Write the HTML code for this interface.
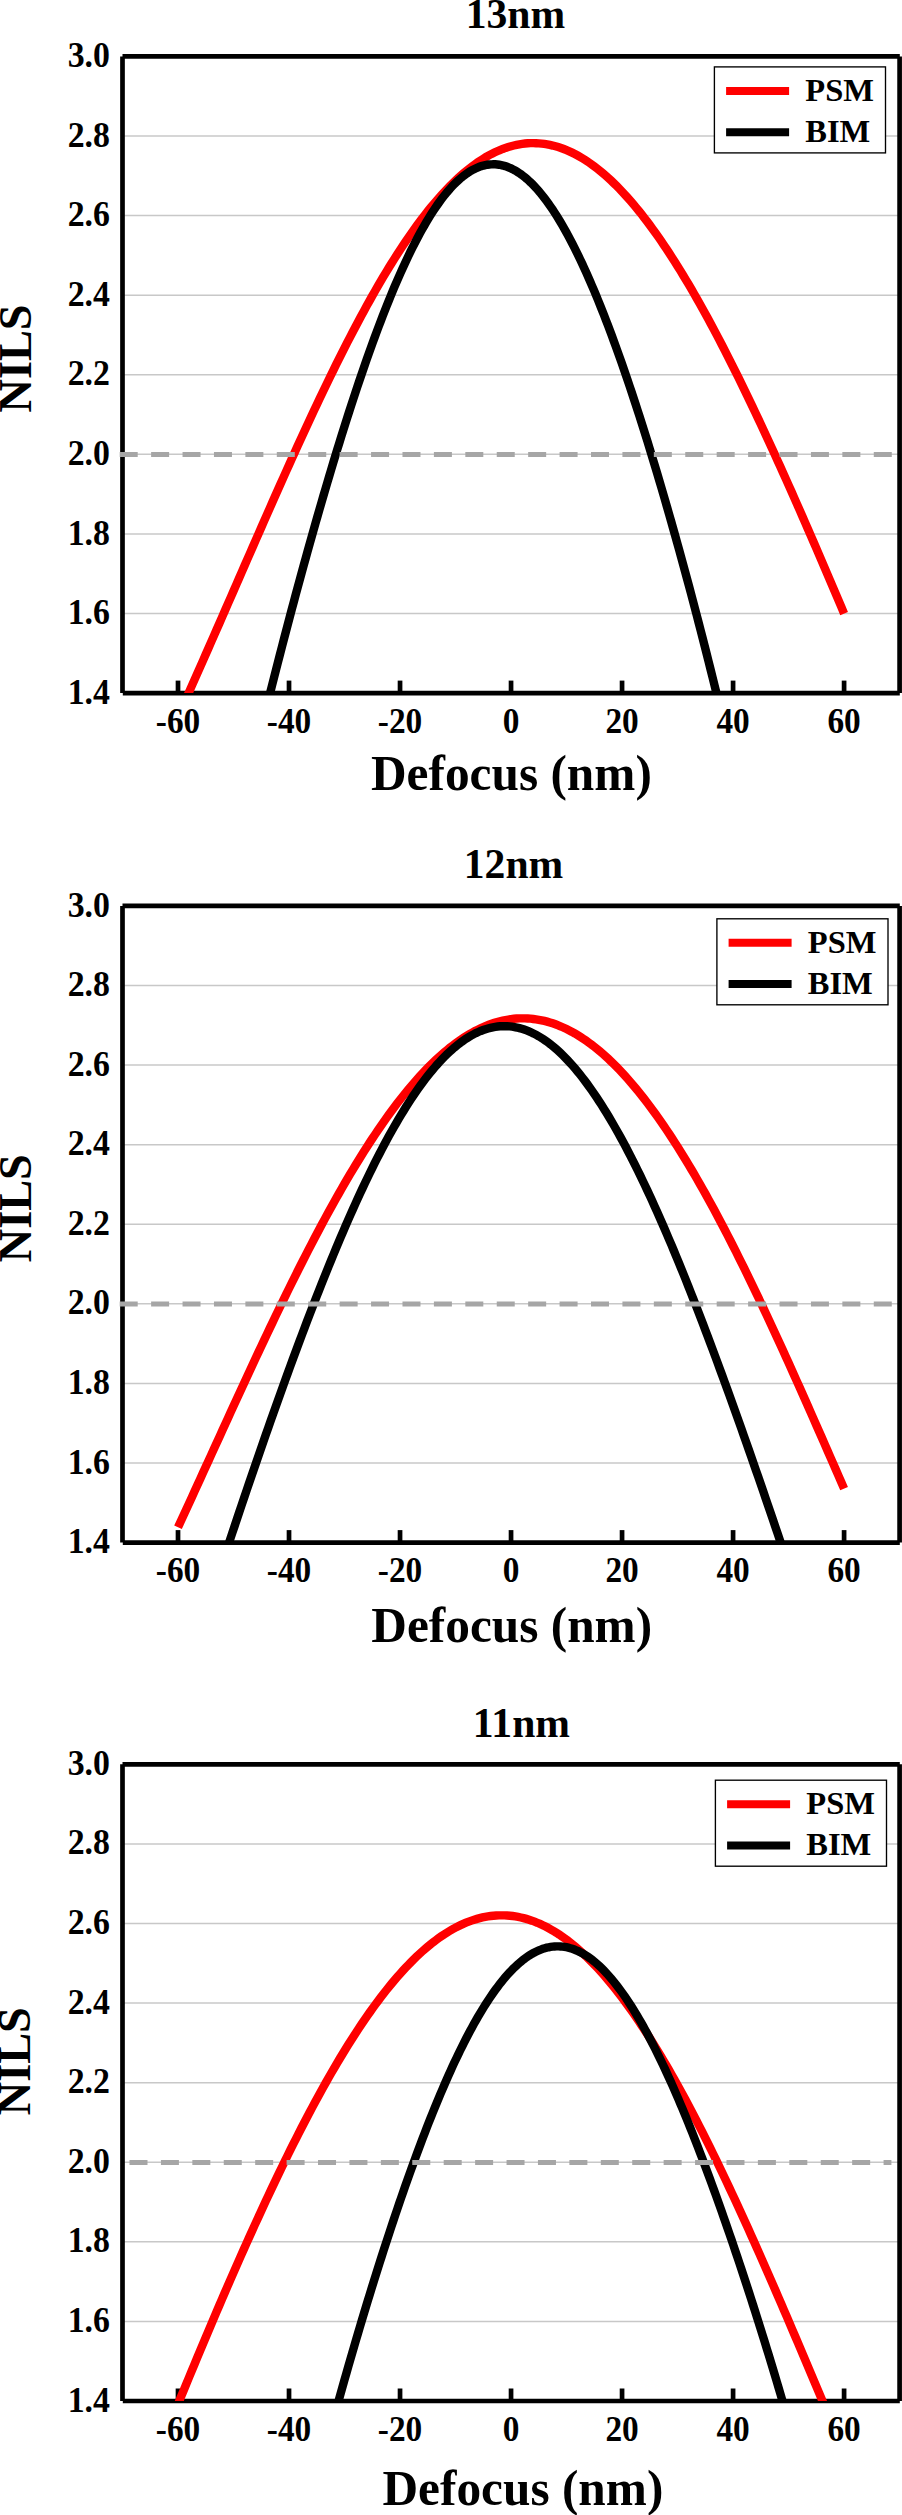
<!DOCTYPE html>
<html><head><meta charset="utf-8"><title>NILS vs Defocus</title>
<style>
html,body{margin:0;padding:0;background:#fff;}
svg{display:block;}
text{font-family:"Liberation Serif",serif;font-weight:bold;fill:#000;}
.tk{font-size:35px;}
.lg{font-size:32.5px;}
.ti{font-size:42.5px;}
.xl{font-size:50.6px;}
.yl{font-size:46.3px;}
</style></head><body>
<svg width="902" height="2515" viewBox="0 0 902 2515">
<defs>
<clipPath id="c0"><rect x="122.5" y="56.4" width="777.1" height="636.7"/></clipPath>
<clipPath id="c1"><rect x="122.5" y="905.9" width="777.1" height="636.7"/></clipPath>
<clipPath id="c2"><rect x="122.5" y="1764.3" width="777.1" height="636.7"/></clipPath>
</defs>
<rect width="902" height="2515" fill="#fff"/>
<g id="plot0">
<line x1="122.5" x2="899.6" y1="135.99" y2="135.99" stroke="#c8c8c8" stroke-width="1.5"/>
<line x1="122.5" x2="899.6" y1="215.57" y2="215.57" stroke="#c8c8c8" stroke-width="1.5"/>
<line x1="122.5" x2="899.6" y1="295.16" y2="295.16" stroke="#c8c8c8" stroke-width="1.5"/>
<line x1="122.5" x2="899.6" y1="374.75" y2="374.75" stroke="#c8c8c8" stroke-width="1.5"/>
<line x1="122.5" x2="899.6" y1="454.34" y2="454.34" stroke="#c8c8c8" stroke-width="1.5"/>
<line x1="122.5" x2="899.6" y1="533.93" y2="533.93" stroke="#c8c8c8" stroke-width="1.5"/>
<line x1="122.5" x2="899.6" y1="613.51" y2="613.51" stroke="#c8c8c8" stroke-width="1.5"/>
<g stroke="#000" stroke-width="4.7" fill="none">
<line x1="122.5" y1="56.4" x2="122.5" y2="693.1"/>
<line x1="122.5" y1="56.4" x2="899.8000000000001" y2="56.4"/>
<line x1="899.6" y1="56.4" x2="899.6" y2="693.1"/>
<line x1="122.8" y1="693.1" x2="899.8000000000001" y2="693.1"/>
<line x1="178.01" x2="178.01" y1="693.1" y2="680.6"/>
<line x1="289.02" x2="289.02" y1="693.1" y2="680.6"/>
<line x1="400.04" x2="400.04" y1="693.1" y2="680.6"/>
<line x1="511.05" x2="511.05" y1="693.1" y2="680.6"/>
<line x1="622.06" x2="622.06" y1="693.1" y2="680.6"/>
<line x1="733.08" x2="733.08" y1="693.1" y2="680.6"/>
<line x1="844.09" x2="844.09" y1="693.1" y2="680.6"/>
</g>
<g clip-path="url(#c0)" fill="none" stroke-width="8.4">
<path d="M178.01,716.65 L180.78,710.48 L183.56,704.29 L186.33,698.08 L189.11,691.87 L191.88,685.64 L194.66,679.39 L197.43,673.13 L200.21,666.87 L202.99,660.58 L205.76,654.29 L208.54,647.99 L211.31,641.68 L214.09,635.36 L216.86,629.03 L219.64,622.70 L222.41,616.36 L225.19,610.01 L227.96,603.66 L230.74,597.31 L233.51,590.95 L236.29,584.60 L239.06,578.24 L241.84,571.88 L244.62,565.53 L247.39,559.17 L250.17,552.82 L252.94,546.48 L255.72,540.14 L258.49,533.81 L261.27,527.48 L264.04,521.17 L266.82,514.87 L269.59,508.58 L272.37,502.30 L275.14,496.03 L277.92,489.79 L280.70,483.56 L283.47,477.34 L286.25,471.15 L289.02,464.98 L291.80,458.83 L294.57,452.70 L297.35,446.59 L300.12,440.52 L302.90,434.47 L305.67,428.45 L308.45,422.45 L311.22,416.49 L314.00,410.57 L316.77,404.67 L319.55,398.81 L322.33,392.99 L325.10,387.20 L327.88,381.46 L330.65,375.75 L333.43,370.09 L336.20,364.47 L338.98,358.89 L341.75,353.36 L344.53,347.88 L347.30,342.44 L350.08,337.06 L352.85,331.72 L355.63,326.44 L358.41,321.21 L361.18,316.03 L363.96,310.91 L366.73,305.85 L369.51,300.84 L372.28,295.90 L375.06,291.01 L377.83,286.19 L380.61,281.43 L383.38,276.73 L386.16,272.10 L388.93,267.54 L391.71,263.04 L394.49,258.61 L397.26,254.25 L400.04,249.97 L402.81,245.75 L405.59,241.60 L408.36,237.53 L411.14,233.54 L413.91,229.62 L416.69,225.78 L419.46,222.01 L422.24,218.32 L425.01,214.71 L427.79,211.19 L430.56,207.74 L433.34,204.38 L436.12,201.10 L438.89,197.90 L441.67,194.78 L444.44,191.76 L447.22,188.81 L449.99,185.96 L452.77,183.19 L455.54,180.51 L458.32,177.92 L461.09,175.41 L463.87,173.00 L466.64,170.68 L469.42,168.45 L472.19,166.31 L474.97,164.26 L477.75,162.30 L480.52,160.44 L483.30,158.67 L486.07,156.99 L488.85,155.41 L491.62,153.92 L494.40,152.53 L497.17,151.23 L499.95,150.03 L502.72,148.93 L505.50,147.92 L508.27,147.00 L511.05,146.18 L513.83,145.46 L516.60,144.84 L519.38,144.31 L522.15,143.88 L524.93,143.55 L527.70,143.31 L530.48,143.17 L533.25,143.13 L536.03,143.18 L538.80,143.33 L541.58,143.58 L544.35,143.92 L547.13,144.36 L549.90,144.90 L552.68,145.53 L555.46,146.26 L558.23,147.08 L561.01,148.00 L563.78,149.02 L566.56,150.13 L569.33,151.33 L572.11,152.63 L574.88,154.02 L577.66,155.51 L580.43,157.09 L583.21,158.76 L585.98,160.52 L588.76,162.38 L591.54,164.32 L594.31,166.36 L597.09,168.49 L599.86,170.71 L602.64,173.01 L605.41,175.40 L608.19,177.89 L610.96,180.45 L613.74,183.11 L616.51,185.85 L619.29,188.67 L622.06,191.58 L624.84,194.58 L627.62,197.65 L630.39,200.81 L633.17,204.05 L635.94,207.36 L638.72,210.76 L641.49,214.24 L644.27,217.79 L647.04,221.42 L649.82,225.13 L652.59,228.91 L655.37,232.77 L658.14,236.70 L660.92,240.70 L663.69,244.78 L666.47,248.92 L669.25,253.13 L672.02,257.41 L674.80,261.76 L677.57,266.18 L680.35,270.66 L683.12,275.20 L685.90,279.81 L688.67,284.48 L691.45,289.21 L694.22,294.00 L697.00,298.85 L699.77,303.76 L702.55,308.73 L705.33,313.75 L708.10,318.83 L710.88,323.96 L713.65,329.14 L716.43,334.37 L719.20,339.66 L721.98,344.99 L724.75,350.38 L727.53,355.81 L730.30,361.28 L733.08,366.80 L735.85,372.37 L738.63,377.97 L741.40,383.62 L744.18,389.32 L746.96,395.05 L749.73,400.81 L752.51,406.62 L755.28,412.47 L758.06,418.34 L760.83,424.26 L763.61,430.21 L766.38,436.19 L769.16,442.20 L771.93,448.24 L774.71,454.32 L777.48,460.42 L780.26,466.55 L783.03,472.70 L785.81,478.89 L788.59,485.10 L791.36,491.33 L794.14,497.59 L796.91,503.87 L799.69,510.17 L802.46,516.50 L805.24,522.84 L808.01,529.21 L810.79,535.59 L813.56,542.00 L816.34,548.42 L819.11,554.86 L821.89,561.32 L824.67,567.80 L827.44,574.29 L830.22,580.79 L832.99,587.32 L835.77,593.85 L838.54,600.41 L841.32,606.97 L844.09,613.55" stroke="#ff0000"/>
<path d="M256.27,749.30 L258.25,741.12 L260.22,733.00 L262.20,724.92 L264.17,716.90 L266.15,708.92 L268.12,700.99 L270.10,693.11 L272.07,685.27 L274.05,677.47 L276.02,669.72 L278.00,662.01 L279.97,654.34 L281.95,646.71 L283.92,639.13 L285.90,631.58 L287.87,624.08 L289.85,616.61 L291.82,609.19 L293.80,601.80 L295.77,594.45 L297.75,587.15 L299.73,579.88 L301.70,572.65 L303.68,565.46 L305.65,558.31 L307.63,551.20 L309.60,544.13 L311.58,537.10 L313.55,530.11 L315.53,523.17 L317.50,516.26 L319.48,509.40 L321.45,502.58 L323.43,495.80 L325.40,489.06 L327.38,482.37 L329.35,475.72 L331.33,469.12 L333.30,462.57 L335.28,456.06 L337.25,449.60 L339.23,443.18 L341.20,436.82 L343.18,430.51 L345.15,424.24 L347.13,418.03 L349.10,411.87 L351.08,405.76 L353.05,399.71 L355.03,393.71 L357.00,387.77 L358.98,381.88 L360.95,376.05 L362.93,370.29 L364.90,364.58 L366.88,358.93 L368.85,353.34 L370.83,347.81 L372.80,342.35 L374.78,336.95 L376.76,331.62 L378.73,326.35 L380.71,321.16 L382.68,316.03 L384.66,310.96 L386.63,305.97 L388.61,301.06 L390.58,296.21 L392.56,291.44 L394.53,286.74 L396.51,282.11 L398.48,277.56 L400.46,273.09 L402.43,268.70 L404.41,264.39 L406.38,260.15 L408.36,256.00 L410.33,251.93 L412.31,247.94 L414.28,244.04 L416.26,240.22 L418.23,236.48 L420.21,232.83 L422.18,229.27 L424.16,225.80 L426.13,222.41 L428.11,219.12 L430.08,215.91 L432.06,212.79 L434.03,209.77 L436.01,206.84 L437.98,204.00 L439.96,201.25 L441.93,198.60 L443.91,196.04 L445.88,193.58 L447.86,191.22 L449.83,188.95 L451.81,186.78 L453.79,184.70 L455.76,182.72 L457.74,180.85 L459.71,179.07 L461.69,177.39 L463.66,175.81 L465.64,174.33 L467.61,172.95 L469.59,171.67 L471.56,170.49 L473.54,169.42 L475.51,168.44 L477.49,167.57 L479.46,166.80 L481.44,166.13 L483.41,165.57 L485.39,165.10 L487.36,164.74 L489.34,164.48 L491.31,164.33 L493.29,164.27 L495.26,164.32 L497.24,164.48 L499.21,164.73 L501.19,165.09 L503.16,165.55 L505.14,166.11 L507.11,166.77 L509.09,167.54 L511.06,168.40 L513.04,169.37 L515.01,170.44 L516.99,171.61 L518.96,172.89 L520.94,174.26 L522.91,175.73 L524.89,177.30 L526.86,178.97 L528.84,180.74 L530.82,182.60 L532.79,184.57 L534.77,186.63 L536.74,188.79 L538.72,191.04 L540.69,193.39 L542.67,195.84 L544.64,198.38 L546.62,201.01 L548.59,203.74 L550.57,206.56 L552.54,209.47 L554.52,212.47 L556.49,215.56 L558.47,218.75 L560.44,222.02 L562.42,225.38 L564.39,228.82 L566.37,232.36 L568.34,235.98 L570.32,239.68 L572.29,243.47 L574.27,247.34 L576.24,251.30 L578.22,255.33 L580.19,259.45 L582.17,263.65 L584.14,267.92 L586.12,272.28 L588.09,276.71 L590.07,281.22 L592.04,285.80 L594.02,290.46 L595.99,295.19 L597.97,299.99 L599.94,304.87 L601.92,309.82 L603.89,314.83 L605.87,319.92 L607.85,325.07 L609.82,330.29 L611.80,335.58 L613.77,340.93 L615.75,346.35 L617.72,351.83 L619.70,357.38 L621.67,362.98 L623.65,368.65 L625.62,374.38 L627.60,380.16 L629.57,386.01 L631.55,391.91 L633.52,397.87 L635.50,403.88 L637.47,409.95 L639.45,416.08 L641.42,422.26 L643.40,428.49 L645.37,434.78 L647.35,441.11 L649.32,447.50 L651.30,453.94 L653.27,460.43 L655.25,466.97 L657.22,473.56 L659.20,480.20 L661.17,486.88 L663.15,493.61 L665.12,500.40 L667.10,507.22 L669.07,514.10 L671.05,521.02 L673.02,527.99 L675.00,535.00 L676.97,542.07 L678.95,549.17 L680.92,556.33 L682.90,563.53 L684.88,570.77 L686.85,578.07 L688.83,585.41 L690.80,592.79 L692.78,600.23 L694.75,607.71 L696.73,615.24 L698.70,622.82 L700.68,630.45 L702.65,638.13 L704.63,645.86 L706.60,653.64 L708.58,661.47 L710.55,669.36 L712.53,677.30 L714.50,685.29 L716.48,693.35 L718.45,701.46 L720.43,709.63 L722.40,717.86 L724.38,726.15 L726.35,734.51 L728.33,742.93 L730.30,751.42" stroke="#000"/>
</g>
<line x1="119.7" x2="902" y1="454.54" y2="454.54" stroke="#a6a6a6" stroke-width="5" stroke-dasharray="18 13.42"/>
<rect x="714.40" y="66.90" width="171.1" height="86" fill="#fff" stroke="#000" stroke-width="1.35"/>
<line x1="726.10" x2="789.10" y1="90.90" y2="90.90" stroke="#ff0000" stroke-width="8"/>
<line x1="726.10" x2="789.10" y1="132.20" y2="132.20" stroke="#000" stroke-width="8"/>
<text class="lg" transform="translate(805.30,100.80)">PSM</text>
<text class="lg" transform="translate(805.30,141.60)">BIM</text>
<text class="tk" text-anchor="end" transform="translate(110.00,67.00) scale(0.967,1)">3.0</text>
<text class="tk" text-anchor="end" transform="translate(110.00,146.59) scale(0.967,1)">2.8</text>
<text class="tk" text-anchor="end" transform="translate(110.00,226.17) scale(0.967,1)">2.6</text>
<text class="tk" text-anchor="end" transform="translate(110.00,305.76) scale(0.967,1)">2.4</text>
<text class="tk" text-anchor="end" transform="translate(110.00,385.35) scale(0.967,1)">2.2</text>
<text class="tk" text-anchor="end" transform="translate(110.00,464.94) scale(0.967,1)">2.0</text>
<text class="tk" text-anchor="end" transform="translate(110.00,544.53) scale(0.967,1)">1.8</text>
<text class="tk" text-anchor="end" transform="translate(110.00,624.11) scale(0.967,1)">1.6</text>
<text class="tk" text-anchor="end" transform="translate(110.00,703.70) scale(0.967,1)">1.4</text>
<text class="tk" text-anchor="middle" transform="translate(178.01,732.70) scale(0.953,1)">-60</text>
<text class="tk" text-anchor="middle" transform="translate(289.02,732.70) scale(0.953,1)">-40</text>
<text class="tk" text-anchor="middle" transform="translate(400.04,732.70) scale(0.953,1)">-20</text>
<text class="tk" text-anchor="middle" transform="translate(511.05,732.70) scale(0.953,1)">0</text>
<text class="tk" text-anchor="middle" transform="translate(622.06,732.70) scale(0.953,1)">20</text>
<text class="tk" text-anchor="middle" transform="translate(733.08,732.70) scale(0.953,1)">40</text>
<text class="tk" text-anchor="middle" transform="translate(844.09,732.70) scale(0.953,1)">60</text>
<text class="ti" text-anchor="middle" transform="translate(515.40,28.40) scale(0.98,1)">13nm</text>
<text class="xl" text-anchor="middle" transform="translate(511.40,789.50) scale(0.975,1)">Defocus (nm)</text>
<text class="yl" text-anchor="middle" transform="translate(31.10,358.50) rotate(-90)">NILS</text>
</g>
<g id="plot1">
<line x1="122.5" x2="899.6" y1="985.49" y2="985.49" stroke="#c8c8c8" stroke-width="1.5"/>
<line x1="122.5" x2="899.6" y1="1065.08" y2="1065.08" stroke="#c8c8c8" stroke-width="1.5"/>
<line x1="122.5" x2="899.6" y1="1144.66" y2="1144.66" stroke="#c8c8c8" stroke-width="1.5"/>
<line x1="122.5" x2="899.6" y1="1224.25" y2="1224.25" stroke="#c8c8c8" stroke-width="1.5"/>
<line x1="122.5" x2="899.6" y1="1303.84" y2="1303.84" stroke="#c8c8c8" stroke-width="1.5"/>
<line x1="122.5" x2="899.6" y1="1383.43" y2="1383.43" stroke="#c8c8c8" stroke-width="1.5"/>
<line x1="122.5" x2="899.6" y1="1463.01" y2="1463.01" stroke="#c8c8c8" stroke-width="1.5"/>
<g stroke="#000" stroke-width="4.7" fill="none">
<line x1="122.5" y1="905.9" x2="122.5" y2="1542.6"/>
<line x1="122.5" y1="905.9" x2="899.8000000000001" y2="905.9"/>
<line x1="899.6" y1="905.9" x2="899.6" y2="1542.6"/>
<line x1="122.8" y1="1542.6" x2="899.8000000000001" y2="1542.6"/>
<line x1="178.01" x2="178.01" y1="1542.6" y2="1530.1"/>
<line x1="289.02" x2="289.02" y1="1542.6" y2="1530.1"/>
<line x1="400.04" x2="400.04" y1="1542.6" y2="1530.1"/>
<line x1="511.05" x2="511.05" y1="1542.6" y2="1530.1"/>
<line x1="622.06" x2="622.06" y1="1542.6" y2="1530.1"/>
<line x1="733.08" x2="733.08" y1="1542.6" y2="1530.1"/>
<line x1="844.09" x2="844.09" y1="1542.6" y2="1530.1"/>
</g>
<g clip-path="url(#c1)" fill="none" stroke-width="8.4">
<path d="M178.01,1527.32 L180.78,1521.31 L183.56,1515.29 L186.33,1509.25 L189.11,1503.21 L191.88,1497.15 L194.66,1491.09 L197.43,1485.02 L200.21,1478.95 L202.99,1472.87 L205.76,1466.79 L208.54,1460.71 L211.31,1454.62 L214.09,1448.54 L216.86,1442.46 L219.64,1436.38 L222.41,1430.30 L225.19,1424.23 L227.96,1418.16 L230.74,1412.10 L233.51,1406.05 L236.29,1400.01 L239.06,1393.98 L241.84,1387.96 L244.62,1381.95 L247.39,1375.96 L250.17,1369.98 L252.94,1364.02 L255.72,1358.07 L258.49,1352.15 L261.27,1346.24 L264.04,1340.36 L266.82,1334.49 L269.59,1328.65 L272.37,1322.83 L275.14,1317.04 L277.92,1311.28 L280.70,1305.54 L283.47,1299.83 L286.25,1294.15 L289.02,1288.50 L291.80,1282.89 L294.57,1277.30 L297.35,1271.75 L300.12,1266.24 L302.90,1260.76 L305.67,1255.32 L308.45,1249.92 L311.22,1244.56 L314.00,1239.24 L316.77,1233.96 L319.55,1228.72 L322.33,1223.53 L325.10,1218.38 L327.88,1213.28 L330.65,1208.22 L333.43,1203.21 L336.20,1198.25 L338.98,1193.34 L341.75,1188.48 L344.53,1183.67 L347.30,1178.92 L350.08,1174.22 L352.85,1169.57 L355.63,1164.98 L358.41,1160.44 L361.18,1155.96 L363.96,1151.54 L366.73,1147.18 L369.51,1142.88 L372.28,1138.64 L375.06,1134.46 L377.83,1130.34 L380.61,1126.29 L383.38,1122.30 L386.16,1118.38 L388.93,1114.52 L391.71,1110.73 L394.49,1107.00 L397.26,1103.34 L400.04,1099.75 L402.81,1096.23 L405.59,1092.78 L408.36,1089.40 L411.14,1086.10 L413.91,1082.86 L416.69,1079.70 L419.46,1076.61 L422.24,1073.59 L425.01,1070.65 L427.79,1067.79 L430.56,1065.00 L433.34,1062.28 L436.12,1059.65 L438.89,1057.09 L441.67,1054.61 L444.44,1052.20 L447.22,1049.88 L449.99,1047.63 L452.77,1045.47 L455.54,1043.39 L458.32,1041.38 L461.09,1039.46 L463.87,1037.62 L466.64,1035.86 L469.42,1034.18 L472.19,1032.59 L474.97,1031.08 L477.75,1029.65 L480.52,1028.31 L483.30,1027.05 L486.07,1025.87 L488.85,1024.78 L491.62,1023.78 L494.40,1022.85 L497.17,1022.02 L499.95,1021.27 L502.72,1020.60 L505.50,1020.02 L508.27,1019.53 L511.05,1019.12 L513.83,1018.80 L516.60,1018.56 L519.38,1018.41 L522.15,1018.35 L524.93,1018.37 L527.70,1018.48 L530.48,1018.67 L533.25,1018.96 L536.03,1019.32 L538.80,1019.78 L541.58,1020.32 L544.35,1020.95 L547.13,1021.66 L549.90,1022.46 L552.68,1023.34 L555.46,1024.31 L558.23,1025.37 L561.01,1026.51 L563.78,1027.73 L566.56,1029.04 L569.33,1030.44 L572.11,1031.92 L574.88,1033.48 L577.66,1035.13 L580.43,1036.86 L583.21,1038.68 L585.98,1040.58 L588.76,1042.56 L591.54,1044.62 L594.31,1046.77 L597.09,1048.99 L599.86,1051.30 L602.64,1053.69 L605.41,1056.16 L608.19,1058.71 L610.96,1061.34 L613.74,1064.04 L616.51,1066.83 L619.29,1069.69 L622.06,1072.64 L624.84,1075.65 L627.62,1078.75 L630.39,1081.92 L633.17,1085.16 L635.94,1088.48 L638.72,1091.88 L641.49,1095.34 L644.27,1098.88 L647.04,1102.50 L649.82,1106.18 L652.59,1109.93 L655.37,1113.76 L658.14,1117.65 L660.92,1121.61 L663.69,1125.64 L666.47,1129.74 L669.25,1133.90 L672.02,1138.13 L674.80,1142.42 L677.57,1146.78 L680.35,1151.20 L683.12,1155.68 L685.90,1160.22 L688.67,1164.83 L691.45,1169.49 L694.22,1174.21 L697.00,1178.99 L699.77,1183.83 L702.55,1188.72 L705.33,1193.67 L708.10,1198.68 L710.88,1203.73 L713.65,1208.84 L716.43,1214.00 L719.20,1219.21 L721.98,1224.47 L724.75,1229.78 L727.53,1235.14 L730.30,1240.54 L733.08,1245.99 L735.85,1251.48 L738.63,1257.02 L741.40,1262.59 L744.18,1268.21 L746.96,1273.87 L749.73,1279.57 L752.51,1285.31 L755.28,1291.08 L758.06,1296.89 L760.83,1302.74 L763.61,1308.61 L766.38,1314.52 L769.16,1320.47 L771.93,1326.44 L774.71,1332.44 L777.48,1338.47 L780.26,1344.52 L783.03,1350.61 L785.81,1356.71 L788.59,1362.84 L791.36,1369.00 L794.14,1375.17 L796.91,1381.36 L799.69,1387.58 L802.46,1393.81 L805.24,1400.05 L808.01,1406.32 L810.79,1412.59 L813.56,1418.88 L816.34,1425.18 L819.11,1431.49 L821.89,1437.81 L824.67,1444.14 L827.44,1450.48 L830.22,1456.82 L832.99,1463.17 L835.77,1469.52 L838.54,1475.87 L841.32,1482.23 L844.09,1488.58" stroke="#ff0000"/>
<path d="M215.20,1584.81 L217.61,1577.41 L220.03,1570.04 L222.44,1562.70 L224.85,1555.37 L227.27,1548.07 L229.68,1540.80 L232.10,1533.54 L234.51,1526.31 L236.92,1519.11 L239.34,1511.92 L241.75,1504.76 L244.17,1497.62 L246.58,1490.51 L248.99,1483.42 L251.41,1476.35 L253.82,1469.31 L256.24,1462.29 L258.65,1455.30 L261.06,1448.33 L263.48,1441.39 L265.89,1434.47 L268.31,1427.58 L270.72,1420.72 L273.14,1413.89 L275.55,1407.09 L277.96,1400.31 L280.38,1393.57 L282.79,1386.85 L285.21,1380.17 L287.62,1373.52 L290.03,1366.91 L292.45,1360.32 L294.86,1353.78 L297.28,1347.26 L299.69,1340.79 L302.10,1334.35 L304.52,1327.95 L306.93,1321.59 L309.35,1315.27 L311.76,1308.99 L314.17,1302.75 L316.59,1296.56 L319.00,1290.41 L321.42,1284.30 L323.83,1278.24 L326.25,1272.23 L328.66,1266.27 L331.07,1260.35 L333.49,1254.49 L335.90,1248.67 L338.32,1242.91 L340.73,1237.20 L343.14,1231.55 L345.56,1225.95 L347.97,1220.41 L350.39,1214.92 L352.80,1209.50 L355.21,1204.13 L357.63,1198.83 L360.04,1193.58 L362.46,1188.40 L364.87,1183.29 L367.29,1178.23 L369.70,1173.25 L372.11,1168.33 L374.53,1163.48 L376.94,1158.70 L379.36,1153.99 L381.77,1149.35 L384.18,1144.78 L386.60,1140.28 L389.01,1135.86 L391.43,1131.51 L393.84,1127.24 L396.25,1123.05 L398.67,1118.94 L401.08,1114.90 L403.50,1110.94 L405.91,1107.07 L408.32,1103.27 L410.74,1099.56 L413.15,1095.93 L415.57,1092.38 L417.98,1088.92 L420.40,1085.55 L422.81,1082.26 L425.22,1079.06 L427.64,1075.95 L430.05,1072.92 L432.47,1069.99 L434.88,1067.14 L437.29,1064.39 L439.71,1061.72 L442.12,1059.15 L444.54,1056.67 L446.95,1054.29 L449.36,1052.00 L451.78,1049.80 L454.19,1047.70 L456.61,1045.69 L459.02,1043.78 L461.43,1041.96 L463.85,1040.25 L466.26,1038.63 L468.68,1037.10 L471.09,1035.68 L473.51,1034.35 L475.92,1033.12 L478.33,1031.99 L480.75,1030.96 L483.16,1030.03 L485.58,1029.20 L487.99,1028.47 L490.40,1027.84 L492.82,1027.31 L495.23,1026.87 L497.65,1026.54 L500.06,1026.31 L502.47,1026.18 L504.89,1026.16 L507.30,1026.23 L509.72,1026.40 L512.13,1026.67 L514.55,1027.05 L516.96,1027.52 L519.37,1028.09 L521.79,1028.77 L524.20,1029.54 L526.62,1030.41 L529.03,1031.39 L531.44,1032.46 L533.86,1033.63 L536.27,1034.90 L538.69,1036.27 L541.10,1037.74 L543.51,1039.30 L545.93,1040.96 L548.34,1042.72 L550.76,1044.57 L553.17,1046.53 L555.58,1048.57 L558.00,1050.71 L560.41,1052.95 L562.83,1055.28 L565.24,1057.70 L567.66,1060.22 L570.07,1062.83 L572.48,1065.53 L574.90,1068.32 L577.31,1071.20 L579.73,1074.17 L582.14,1077.23 L584.55,1080.38 L586.97,1083.62 L589.38,1086.94 L591.80,1090.35 L594.21,1093.84 L596.62,1097.42 L599.04,1101.08 L601.45,1104.82 L603.87,1108.65 L606.28,1112.56 L608.69,1116.54 L611.11,1120.61 L613.52,1124.75 L615.94,1128.97 L618.35,1133.27 L620.77,1137.64 L623.18,1142.08 L625.59,1146.60 L628.01,1151.19 L630.42,1155.86 L632.84,1160.59 L635.25,1165.39 L637.66,1170.26 L640.08,1175.20 L642.49,1180.20 L644.91,1185.27 L647.32,1190.40 L649.73,1195.59 L652.15,1200.85 L654.56,1206.17 L656.98,1211.54 L659.39,1216.98 L661.81,1222.47 L664.22,1228.02 L666.63,1233.62 L669.05,1239.28 L671.46,1244.99 L673.88,1250.75 L676.29,1256.57 L678.70,1262.43 L681.12,1268.34 L683.53,1274.30 L685.95,1280.30 L688.36,1286.36 L690.77,1292.45 L693.19,1298.59 L695.60,1304.77 L698.02,1310.99 L700.43,1317.25 L702.84,1323.56 L705.26,1329.90 L707.67,1336.27 L710.09,1342.69 L712.50,1349.13 L714.92,1355.62 L717.33,1362.13 L719.74,1368.68 L722.16,1375.26 L724.57,1381.87 L726.99,1388.51 L729.40,1395.18 L731.81,1401.88 L734.23,1408.61 L736.64,1415.36 L739.06,1422.14 L741.47,1428.95 L743.88,1435.78 L746.30,1442.63 L748.71,1449.51 L751.13,1456.41 L753.54,1463.33 L755.95,1470.28 L758.37,1477.24 L760.78,1484.23 L763.20,1491.24 L765.61,1498.27 L768.03,1505.32 L770.44,1512.39 L772.85,1519.47 L775.27,1526.58 L777.68,1533.71 L780.10,1540.86 L782.51,1548.02 L784.92,1555.21 L787.34,1562.41 L789.75,1569.64 L792.17,1576.88 L794.58,1584.14" stroke="#000"/>
</g>
<line x1="119.7" x2="902" y1="1304.04" y2="1304.04" stroke="#a6a6a6" stroke-width="5" stroke-dasharray="18 13.42"/>
<rect x="716.90" y="918.80" width="171.1" height="86" fill="#fff" stroke="#000" stroke-width="1.35"/>
<line x1="728.60" x2="791.60" y1="942.80" y2="942.80" stroke="#ff0000" stroke-width="8"/>
<line x1="728.60" x2="791.60" y1="984.10" y2="984.10" stroke="#000" stroke-width="8"/>
<text class="lg" transform="translate(807.80,952.70)">PSM</text>
<text class="lg" transform="translate(807.80,993.50)">BIM</text>
<text class="tk" text-anchor="end" transform="translate(110.00,916.50) scale(0.967,1)">3.0</text>
<text class="tk" text-anchor="end" transform="translate(110.00,996.09) scale(0.967,1)">2.8</text>
<text class="tk" text-anchor="end" transform="translate(110.00,1075.67) scale(0.967,1)">2.6</text>
<text class="tk" text-anchor="end" transform="translate(110.00,1155.26) scale(0.967,1)">2.4</text>
<text class="tk" text-anchor="end" transform="translate(110.00,1234.85) scale(0.967,1)">2.2</text>
<text class="tk" text-anchor="end" transform="translate(110.00,1314.44) scale(0.967,1)">2.0</text>
<text class="tk" text-anchor="end" transform="translate(110.00,1394.03) scale(0.967,1)">1.8</text>
<text class="tk" text-anchor="end" transform="translate(110.00,1473.61) scale(0.967,1)">1.6</text>
<text class="tk" text-anchor="end" transform="translate(110.00,1553.20) scale(0.967,1)">1.4</text>
<text class="tk" text-anchor="middle" transform="translate(178.01,1582.20) scale(0.953,1)">-60</text>
<text class="tk" text-anchor="middle" transform="translate(289.02,1582.20) scale(0.953,1)">-40</text>
<text class="tk" text-anchor="middle" transform="translate(400.04,1582.20) scale(0.953,1)">-20</text>
<text class="tk" text-anchor="middle" transform="translate(511.05,1582.20) scale(0.953,1)">0</text>
<text class="tk" text-anchor="middle" transform="translate(622.06,1582.20) scale(0.953,1)">20</text>
<text class="tk" text-anchor="middle" transform="translate(733.08,1582.20) scale(0.953,1)">40</text>
<text class="tk" text-anchor="middle" transform="translate(844.09,1582.20) scale(0.953,1)">60</text>
<text class="ti" text-anchor="middle" transform="translate(513.50,877.90) scale(0.98,1)">12nm</text>
<text class="xl" text-anchor="middle" transform="translate(511.70,1641.60) scale(0.975,1)">Defocus (nm)</text>
<text class="yl" text-anchor="middle" transform="translate(31.10,1208.20) rotate(-90)">NILS</text>
</g>
<g id="plot2">
<line x1="122.5" x2="899.6" y1="1843.89" y2="1843.89" stroke="#c8c8c8" stroke-width="1.5"/>
<line x1="122.5" x2="899.6" y1="1923.47" y2="1923.47" stroke="#c8c8c8" stroke-width="1.5"/>
<line x1="122.5" x2="899.6" y1="2003.06" y2="2003.06" stroke="#c8c8c8" stroke-width="1.5"/>
<line x1="122.5" x2="899.6" y1="2082.65" y2="2082.65" stroke="#c8c8c8" stroke-width="1.5"/>
<line x1="122.5" x2="899.6" y1="2162.24" y2="2162.24" stroke="#c8c8c8" stroke-width="1.5"/>
<line x1="122.5" x2="899.6" y1="2241.82" y2="2241.82" stroke="#c8c8c8" stroke-width="1.5"/>
<line x1="122.5" x2="899.6" y1="2321.41" y2="2321.41" stroke="#c8c8c8" stroke-width="1.5"/>
<g stroke="#000" stroke-width="4.7" fill="none">
<line x1="122.5" y1="1764.3" x2="122.5" y2="2401.0"/>
<line x1="122.5" y1="1764.3" x2="899.8000000000001" y2="1764.3"/>
<line x1="899.6" y1="1764.3" x2="899.6" y2="2401.0"/>
<line x1="122.8" y1="2401.0" x2="899.8000000000001" y2="2401.0"/>
<line x1="178.01" x2="178.01" y1="2401.0" y2="2388.5"/>
<line x1="289.02" x2="289.02" y1="2401.0" y2="2388.5"/>
<line x1="400.04" x2="400.04" y1="2401.0" y2="2388.5"/>
<line x1="511.05" x2="511.05" y1="2401.0" y2="2388.5"/>
<line x1="622.06" x2="622.06" y1="2401.0" y2="2388.5"/>
<line x1="733.08" x2="733.08" y1="2401.0" y2="2388.5"/>
<line x1="844.09" x2="844.09" y1="2401.0" y2="2388.5"/>
</g>
<g clip-path="url(#c2)" fill="none" stroke-width="8.4">
<path d="M178.01,2404.14 L180.75,2397.45 L183.49,2390.78 L186.24,2384.12 L188.98,2377.49 L191.72,2370.87 L194.46,2364.27 L197.21,2357.68 L199.95,2351.12 L202.69,2344.58 L205.43,2338.06 L208.18,2331.56 L210.92,2325.08 L213.66,2318.62 L216.41,2312.18 L219.15,2305.77 L221.89,2299.39 L224.63,2293.02 L227.38,2286.69 L230.12,2280.38 L232.86,2274.09 L235.60,2267.84 L238.35,2261.61 L241.09,2255.41 L243.83,2249.24 L246.58,2243.11 L249.32,2237.00 L252.06,2230.93 L254.80,2224.88 L257.55,2218.88 L260.29,2212.90 L263.03,2206.97 L265.78,2201.07 L268.52,2195.20 L271.26,2189.38 L274.00,2183.59 L276.75,2177.84 L279.49,2172.13 L282.23,2166.47 L284.97,2160.84 L287.72,2155.26 L290.46,2149.73 L293.20,2144.23 L295.95,2138.79 L298.69,2133.38 L301.43,2128.03 L304.17,2122.72 L306.92,2117.47 L309.66,2112.26 L312.40,2107.10 L315.14,2102.00 L317.89,2096.95 L320.63,2091.95 L323.37,2087.00 L326.12,2082.11 L328.86,2077.28 L331.60,2072.50 L334.34,2067.78 L337.09,2063.11 L339.83,2058.51 L342.57,2053.96 L345.31,2049.48 L348.06,2045.06 L350.80,2040.70 L353.54,2036.40 L356.29,2032.17 L359.03,2028.00 L361.77,2023.89 L364.51,2019.85 L367.26,2015.88 L370.00,2011.98 L372.74,2008.14 L375.48,2004.37 L378.23,2000.68 L380.97,1997.05 L383.71,1993.49 L386.46,1990.01 L389.20,1986.59 L391.94,1983.25 L394.68,1979.99 L397.43,1976.80 L400.17,1973.68 L402.91,1970.64 L405.66,1967.67 L408.40,1964.78 L411.14,1961.97 L413.88,1959.23 L416.63,1956.58 L419.37,1954.00 L422.11,1951.50 L424.85,1949.08 L427.60,1946.75 L430.34,1944.49 L433.08,1942.31 L435.83,1940.22 L438.57,1938.21 L441.31,1936.28 L444.05,1934.43 L446.80,1932.67 L449.54,1930.99 L452.28,1929.39 L455.02,1927.88 L457.77,1926.45 L460.51,1925.11 L463.25,1923.85 L466.00,1922.68 L468.74,1921.60 L471.48,1920.60 L474.22,1919.68 L476.97,1918.86 L479.71,1918.12 L482.45,1917.46 L485.19,1916.90 L487.94,1916.42 L490.68,1916.03 L493.42,1915.72 L496.17,1915.50 L498.91,1915.37 L501.65,1915.33 L504.39,1915.38 L507.14,1915.51 L509.88,1915.73 L512.62,1916.04 L515.36,1916.44 L518.11,1916.92 L520.85,1917.49 L523.59,1918.15 L526.34,1918.90 L529.08,1919.73 L531.82,1920.65 L534.56,1921.66 L537.31,1922.76 L540.05,1923.94 L542.79,1925.21 L545.54,1926.56 L548.28,1928.00 L551.02,1929.52 L553.76,1931.14 L556.51,1932.83 L559.25,1934.61 L561.99,1936.48 L564.73,1938.43 L567.48,1940.46 L570.22,1942.58 L572.96,1944.78 L575.71,1947.06 L578.45,1949.42 L581.19,1951.87 L583.93,1954.40 L586.68,1957.01 L589.42,1959.70 L592.16,1962.47 L594.90,1965.32 L597.65,1968.24 L600.39,1971.25 L603.13,1974.33 L605.88,1977.49 L608.62,1980.73 L611.36,1984.04 L614.10,1987.43 L616.85,1990.90 L619.59,1994.43 L622.33,1998.05 L625.07,2001.73 L627.82,2005.48 L630.56,2009.31 L633.30,2013.21 L636.05,2017.18 L638.79,2021.21 L641.53,2025.32 L644.27,2029.49 L647.02,2033.73 L649.76,2038.03 L652.50,2042.40 L655.25,2046.84 L657.99,2051.34 L660.73,2055.90 L663.47,2060.52 L666.22,2065.20 L668.96,2069.94 L671.70,2074.75 L674.44,2079.61 L677.19,2084.53 L679.93,2089.50 L682.67,2094.53 L685.42,2099.62 L688.16,2104.75 L690.90,2109.94 L693.64,2115.19 L696.39,2120.48 L699.13,2125.82 L701.87,2131.21 L704.61,2136.65 L707.36,2142.14 L710.10,2147.67 L712.84,2153.25 L715.59,2158.87 L718.33,2164.53 L721.07,2170.24 L723.81,2175.98 L726.56,2181.77 L729.30,2187.59 L732.04,2193.45 L734.78,2199.35 L737.53,2205.29 L740.27,2211.25 L743.01,2217.25 L745.76,2223.29 L748.50,2229.35 L751.24,2235.45 L753.98,2241.57 L756.73,2247.72 L759.47,2253.90 L762.21,2260.11 L764.95,2266.34 L767.70,2272.59 L770.44,2278.87 L773.18,2285.17 L775.93,2291.49 L778.67,2297.83 L781.41,2304.19 L784.15,2310.56 L786.90,2316.96 L789.64,2323.37 L792.38,2329.79 L795.13,2336.23 L797.87,2342.68 L800.61,2349.14 L803.35,2355.61 L806.10,2362.09 L808.84,2368.58 L811.58,2375.08 L814.32,2381.59 L817.07,2388.10 L819.81,2394.61 L822.55,2401.13 L825.30,2407.66 L828.04,2414.19 L830.78,2420.71 L833.52,2427.24 L836.27,2433.77" stroke="#ff0000"/>
<path d="M324.60,2452.53 L326.57,2445.12 L328.53,2437.75 L330.50,2430.44 L332.46,2423.19 L334.43,2415.98 L336.40,2408.83 L338.36,2401.72 L340.33,2394.66 L342.29,2387.65 L344.26,2380.69 L346.22,2373.78 L348.19,2366.90 L350.15,2360.08 L352.12,2353.30 L354.09,2346.56 L356.05,2339.86 L358.02,2333.21 L359.98,2326.60 L361.95,2320.03 L363.91,2313.51 L365.88,2307.02 L367.85,2300.58 L369.81,2294.18 L371.78,2287.82 L373.74,2281.50 L375.71,2275.23 L377.67,2268.99 L379.64,2262.80 L381.61,2256.65 L383.57,2250.54 L385.54,2244.47 L387.50,2238.45 L389.47,2232.47 L391.43,2226.53 L393.40,2220.64 L395.36,2214.79 L397.33,2208.98 L399.30,2203.22 L401.26,2197.51 L403.23,2191.84 L405.19,2186.22 L407.16,2180.64 L409.12,2175.11 L411.09,2169.63 L413.06,2164.20 L415.02,2158.82 L416.99,2153.48 L418.95,2148.20 L420.92,2142.97 L422.88,2137.79 L424.85,2132.67 L426.82,2127.60 L428.78,2122.58 L430.75,2117.61 L432.71,2112.71 L434.68,2107.86 L436.64,2103.06 L438.61,2098.32 L440.57,2093.65 L442.54,2089.03 L444.51,2084.47 L446.47,2079.97 L448.44,2075.54 L450.40,2071.16 L452.37,2066.85 L454.33,2062.61 L456.30,2058.42 L458.27,2054.31 L460.23,2050.26 L462.20,2046.28 L464.16,2042.36 L466.13,2038.51 L468.09,2034.74 L470.06,2031.03 L472.03,2027.39 L473.99,2023.83 L475.96,2020.34 L477.92,2016.92 L479.89,2013.57 L481.85,2010.30 L483.82,2007.10 L485.78,2003.98 L487.75,2000.94 L489.72,1997.97 L491.68,1995.08 L493.65,1992.27 L495.61,1989.54 L497.58,1986.88 L499.54,1984.31 L501.51,1981.81 L503.48,1979.40 L505.44,1977.07 L507.41,1974.82 L509.37,1972.66 L511.34,1970.57 L513.30,1968.57 L515.27,1966.66 L517.23,1964.83 L519.20,1963.08 L521.17,1961.42 L523.13,1959.84 L525.10,1958.35 L527.06,1956.95 L529.03,1955.63 L530.99,1954.40 L532.96,1953.25 L534.93,1952.20 L536.89,1951.23 L538.86,1950.34 L540.82,1949.55 L542.79,1948.84 L544.75,1948.22 L546.72,1947.69 L548.69,1947.25 L550.65,1946.89 L552.62,1946.63 L554.58,1946.45 L556.55,1946.36 L558.51,1946.36 L560.48,1946.45 L562.44,1946.62 L564.41,1946.88 L566.38,1947.23 L568.34,1947.67 L570.31,1948.20 L572.27,1948.81 L574.24,1949.51 L576.20,1950.30 L578.17,1951.18 L580.14,1952.14 L582.10,1953.19 L584.07,1954.32 L586.03,1955.54 L588.00,1956.84 L589.96,1958.23 L591.93,1959.70 L593.90,1961.26 L595.86,1962.90 L597.83,1964.63 L599.79,1966.43 L601.76,1968.32 L603.72,1970.29 L605.69,1972.34 L607.65,1974.48 L609.62,1976.69 L611.59,1978.98 L613.55,1981.35 L615.52,1983.80 L617.48,1986.33 L619.45,1988.93 L621.41,1991.61 L623.38,1994.37 L625.35,1997.20 L627.31,2000.10 L629.28,2003.08 L631.24,2006.13 L633.21,2009.26 L635.17,2012.45 L637.14,2015.72 L639.10,2019.05 L641.07,2022.46 L643.04,2025.93 L645.00,2029.47 L646.97,2033.08 L648.93,2036.75 L650.90,2040.49 L652.86,2044.29 L654.83,2048.16 L656.80,2052.09 L658.76,2056.07 L660.73,2060.13 L662.69,2064.24 L664.66,2068.41 L666.62,2072.63 L668.59,2076.92 L670.56,2081.26 L672.52,2085.66 L674.49,2090.11 L676.45,2094.62 L678.42,2099.18 L680.38,2103.80 L682.35,2108.46 L684.31,2113.18 L686.28,2117.94 L688.25,2122.76 L690.21,2127.62 L692.18,2132.53 L694.14,2137.49 L696.11,2142.49 L698.07,2147.54 L700.04,2152.64 L702.01,2157.78 L703.97,2162.96 L705.94,2168.18 L707.90,2173.45 L709.87,2178.76 L711.83,2184.11 L713.80,2189.50 L715.77,2194.93 L717.73,2200.40 L719.70,2205.90 L721.66,2211.45 L723.63,2217.03 L725.59,2222.65 L727.56,2228.31 L729.52,2234.00 L731.49,2239.73 L733.46,2245.50 L735.42,2251.30 L737.39,2257.14 L739.35,2263.01 L741.32,2268.92 L743.28,2274.86 L745.25,2280.84 L747.22,2286.85 L749.18,2292.90 L751.15,2298.98 L753.11,2305.10 L755.08,2311.25 L757.04,2317.44 L759.01,2323.66 L760.98,2329.92 L762.94,2336.22 L764.91,2342.56 L766.87,2348.93 L768.84,2355.34 L770.80,2361.79 L772.77,2368.28 L774.73,2374.81 L776.70,2381.38 L778.67,2388.00 L780.63,2394.65 L782.60,2401.35 L784.56,2408.10 L786.53,2414.89 L788.49,2421.73 L790.46,2428.62 L792.43,2435.56 L794.39,2442.55 L796.36,2449.60" stroke="#000"/>
</g>
<line x1="129.5" x2="891.4" y1="2162.44" y2="2162.44" stroke="#a6a6a6" stroke-width="5" stroke-dasharray="18 13.42"/>
<rect x="715.40" y="1780.20" width="171.1" height="86" fill="#fff" stroke="#000" stroke-width="1.35"/>
<line x1="727.10" x2="790.10" y1="1804.20" y2="1804.20" stroke="#ff0000" stroke-width="8"/>
<line x1="727.10" x2="790.10" y1="1845.50" y2="1845.50" stroke="#000" stroke-width="8"/>
<text class="lg" transform="translate(806.30,1814.10)">PSM</text>
<text class="lg" transform="translate(806.30,1854.90)">BIM</text>
<text class="tk" text-anchor="end" transform="translate(110.00,1774.90) scale(0.967,1)">3.0</text>
<text class="tk" text-anchor="end" transform="translate(110.00,1854.49) scale(0.967,1)">2.8</text>
<text class="tk" text-anchor="end" transform="translate(110.00,1934.07) scale(0.967,1)">2.6</text>
<text class="tk" text-anchor="end" transform="translate(110.00,2013.66) scale(0.967,1)">2.4</text>
<text class="tk" text-anchor="end" transform="translate(110.00,2093.25) scale(0.967,1)">2.2</text>
<text class="tk" text-anchor="end" transform="translate(110.00,2172.84) scale(0.967,1)">2.0</text>
<text class="tk" text-anchor="end" transform="translate(110.00,2252.42) scale(0.967,1)">1.8</text>
<text class="tk" text-anchor="end" transform="translate(110.00,2332.01) scale(0.967,1)">1.6</text>
<text class="tk" text-anchor="end" transform="translate(110.00,2411.60) scale(0.967,1)">1.4</text>
<text class="tk" text-anchor="middle" transform="translate(178.01,2440.60) scale(0.953,1)">-60</text>
<text class="tk" text-anchor="middle" transform="translate(289.02,2440.60) scale(0.953,1)">-40</text>
<text class="tk" text-anchor="middle" transform="translate(400.04,2440.60) scale(0.953,1)">-20</text>
<text class="tk" text-anchor="middle" transform="translate(511.05,2440.60) scale(0.953,1)">0</text>
<text class="tk" text-anchor="middle" transform="translate(622.06,2440.60) scale(0.953,1)">20</text>
<text class="tk" text-anchor="middle" transform="translate(733.08,2440.60) scale(0.953,1)">40</text>
<text class="tk" text-anchor="middle" transform="translate(844.09,2440.60) scale(0.953,1)">60</text>
<text class="ti" text-anchor="middle" transform="translate(521.40,1737.00) scale(0.98,1)">11nm</text>
<text class="xl" text-anchor="middle" transform="translate(522.90,2504.70) scale(0.975,1)">Defocus (nm)</text>
<text class="yl" text-anchor="middle" transform="translate(30.40,2061.20) rotate(-90)">NILS</text>
</g>
</svg>
</body></html>
